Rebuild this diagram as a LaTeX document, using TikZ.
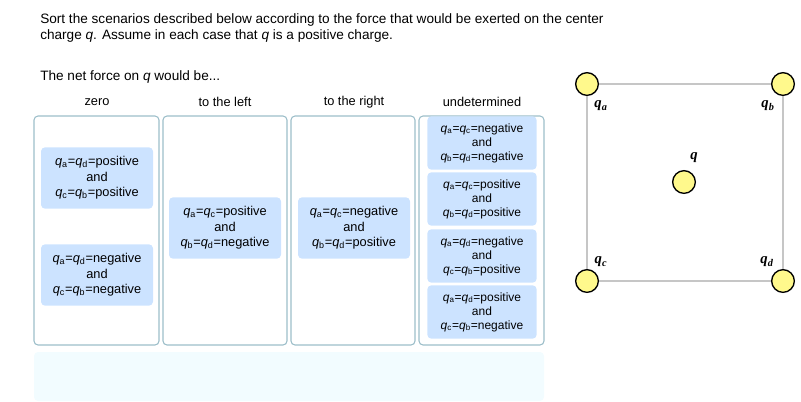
\documentclass[tikz,border=0pt]{standalone}
\usepackage{fontspec}
\setmainfont{Liberation Sans}
\newfontfamily\serifq{Liberation Serif}
\begin{document}
\begin{tikzpicture}[x=0.75pt,y=-0.75pt,
  col/.style={draw=blue!25!cyan!30!gray!60,rounded corners=3pt,line width=0.8pt},
  card/.style={fill=blue!55!cyan!20,rounded corners=3pt,align=center,font=\fontsize{9.6}{11.5}\selectfont,inner sep=3pt},
  hdr/.style={font=\fontsize{9.6}{11}\selectfont},
  chg/.style={circle,draw=black,line width=1pt,fill=yellow!45,minimum size=17pt,inner sep=0},
  ql/.style={font=\serifq\bfseries\itshape\fontsize{11}{12}\selectfont}]
\useasboundingbox (0,0) rectangle (801,401);
\newcommand{\qq}[1]{\textit{q}\textsubscript{#1}}
\node[anchor=north west,align=left,font=\fontsize{10.2}{12}\selectfont,inner sep=0] (t) at (40,13) {Sort the scenarios described below according to the force that would be exerted on the center\\charge \textit{q}. Assume in each case that \textit{q} is a positive charge.};
\node[anchor=west,font=\fontsize{10.2}{12}\selectfont,inner sep=0] (s) at (40,77) {The net force on \textit{q} would be...};
\node[hdr] (h1) at (97,102) {zero};
\node[hdr] (h2) at (225,102) {to the left};
\node[hdr] (h3) at (354,102) {to the right};
\node[hdr] (h4) at (482,102) {undetermined};
\draw[col] (34,116) rectangle (159,345);
\draw[col] (163,116) rectangle (287,345);
\draw[col] (291,116) rectangle (415,345);
\draw[col] (419,116) rectangle (544,345);
\fill[blue!20!cyan!5,rounded corners=3pt] (34,352) rectangle (544,401);
\node[card,minimum width=84pt,minimum height=46pt] (c1) at (97,178) {\qq{a}=\qq{d}=positive\\and\\\qq{c}=\qq{b}=positive};
\node[card,minimum width=84pt,minimum height=46pt] (c2) at (97,275) {\qq{a}=\qq{d}=negative\\and\\\qq{c}=\qq{b}=negative};
\node[card,minimum width=84pt,minimum height=46pt] (c3) at (225,228) {\qq{a}=\qq{c}=positive\\and\\\qq{b}=\qq{d}=negative};
\node[card,minimum width=84pt,minimum height=46pt] (c4) at (354,228) {\qq{a}=\qq{c}=negative\\and\\\qq{b}=\qq{d}=positive};
\begin{scope}[every node/.append style={card,minimum width=82pt,minimum height=40pt,font=\fontsize{9}{10.5}\selectfont,inner sep=1pt}]
\node (d1) at (482,143) {\qq{a}=\qq{c}=negative\\and\\\qq{b}=\qq{d}=negative};
\node (d2) at (482,199) {\qq{a}=\qq{c}=positive\\and\\\qq{b}=\qq{d}=positive};
\node (d3) at (482,256) {\qq{a}=\qq{d}=negative\\and\\\qq{c}=\qq{b}=positive};
\node (d4) at (482,312) {\qq{a}=\qq{d}=positive\\and\\\qq{c}=\qq{b}=negative};
\end{scope}
\node[chg] (qa) at (587,84) {};
\node[chg] (qb) at (783,84) {};
\node[chg] (qc) at (587,281) {};
\node[chg] (qd) at (783,281) {};
\node[chg] (q) at (684,182) {};
\draw[gray!45,line width=1pt] (qa) -- (qb) -- (qd) -- (qc) -- (qa);
\node[ql] (la) at (601,106) {q\textsubscript{a}};
\node[ql] (lb) at (768,106) {q\textsubscript{b}};
\node[ql] (lc) at (601,262) {q\textsubscript{c}};
\node[ql] (ld) at (767,262) {q\textsubscript{d}};
\node[ql] (l) at (694,158) {q};
\end{tikzpicture}
\end{document}
